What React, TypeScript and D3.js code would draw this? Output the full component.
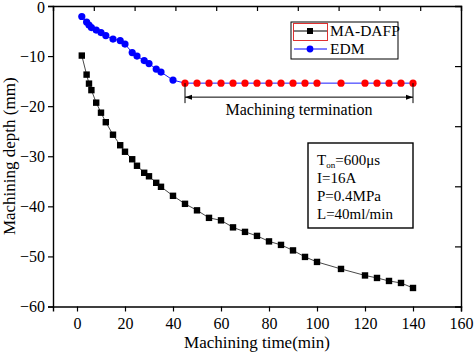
import React, { useEffect, useRef } from "react";
import * as d3 from "d3";

// machining time (min)
const times = [2, 4, 5, 6, 8, 10, 12, 15, 18, 20, 23, 25, 28, 30, 33, 35, 40, 45, 50, 55, 60, 65, 70, 75, 80, 85, 90, 95, 100, 110, 120, 125, 130, 135, 140];

// MA-DAFP machining depth (mm)
const dafpDepth = [-9.9, -13.7, -15.5, -16.8, -19.3, -21.3, -23.2, -25.7, -27.8, -29.1, -30.6, -31.9, -33.3, -34.0, -35.3, -36.1, -37.9, -39.5, -40.8, -42.3, -42.8, -44.2, -45.1, -45.9, -47.0, -47.7, -48.8, -50.1, -51.1, -52.5, -53.8, -54.3, -54.9, -55.3, -56.3];

// EDM machining depth (mm) -- stops going deeper at 45 min
const edmDepth = [-2.1, -3.2, -3.8, -4.3, -4.8, -5.3, -5.9, -6.6, -6.9, -7.6, -9.3, -10.0, -10.9, -11.5, -12.6, -13.2, -14.8, -15.4, -15.4, -15.4, -15.4, -15.4, -15.4, -15.4, -15.4, -15.4, -15.4, -15.4, -15.4, -15.4, -15.4, -15.4, -15.4, -15.4, -15.4];
const terminationStart = 45;

const xTicks = [0, 20, 40, 60, 80, 100, 120, 140, 160];
const yTicks = [0, -10, -20, -30, -40, -50, -60];
const params = ["=600μs", "I=16A", "P=0.4MPa", "L=40ml/min"];

const W = 474;
const H = 354;
const FONT = "Liberation Serif, Times New Roman, serif";

export default function App() {
  const svgRef = useRef<SVGSVGElement>(null);

  useEffect(() => {
    document.body.style.margin = "0";
    const margin = { top: 6, right: 13, bottom: 47.5, left: 53 };
    const svg = d3.select(svgRef.current);
    svg.selectAll("*").remove();
    svg.attr("font-family", FONT);

    const x = d3.scaleLinear().domain([-10, 160]).range([margin.left, W - margin.right]);
    const y = d3.scaleLinear().domain([-60, 0]).range([H - margin.bottom, margin.top]);
    // mirrored frame axes (Origin default, unlabelled)
    const xTop = d3.scaleLinear().domain([0, 10]).range(x.range());
    const yRight = d3.scaleLinear().domain([0, 10]).range(y.range());

    const x0 = margin.left, x1 = W - margin.right, y0 = margin.top, y1 = H - margin.bottom;

    // bottom axis
    const gb = svg.append("g").attr("transform", `translate(0,${y1})`);
    gb.call(d3.axisBottom(x).tickValues(d3.range(-10, 161, 20)).tickSize(3).tickFormat(() => ""));
    gb.call(d3.axisBottom(x).tickValues(xTicks).tickSize(5).tickPadding(6).tickFormat(d3.format("d")));
    // left axis
    const gl = svg.append("g").attr("transform", `translate(${x0},0)`);
    gl.call(d3.axisLeft(y).tickValues(d3.range(-55, 0, 10)).tickSize(3).tickFormat(() => ""));
    gl.call(d3.axisLeft(y).tickValues(yTicks).tickSize(5).tickPadding(3).tickFormat(d3.format("d")));
    // top axis, ticks inside
    const gt = svg.append("g").attr("transform", `translate(0,${y0})`);
    gt.call(d3.axisTop(xTop).tickValues(d3.range(1, 10)).tickSize(-5).tickFormat(() => ""));
    // right axis, ticks inside
    const gr = svg.append("g").attr("transform", `translate(${x1},0)`);
    gr.call(d3.axisRight(yRight).tickValues([1, 3, 5, 7, 9]).tickSize(-3).tickFormat(() => ""));
    gr.call(d3.axisRight(yRight).tickValues([2, 4, 6, 8]).tickSize(-6).tickFormat(() => ""));

    [gb, gl, gt, gr].forEach((g) => g.attr("font-family", FONT).attr("font-size", 16));
    svg.selectAll(".domain").attr("stroke", "#000").attr("stroke-width", 1.4);
    svg.selectAll(".tick line").attr("stroke", "#000").attr("stroke-width", 1.2);
    svg.selectAll(".tick text").attr("fill", "#000");
    gl.selectAll(".tick text").filter((d: any) => d === 0).attr("dy", "0.42em");

    // axis titles
    svg.append("text")
      .attr("x", (x0 + x1) / 2).attr("y", H - 6)
      .attr("text-anchor", "middle").attr("font-size", 17).text("Machining time(min)");
    svg.append("text")
      .attr("transform", `translate(15,${(y0 + y1) / 2}) rotate(-90)`)
      .attr("text-anchor", "middle").attr("font-size", 17).text("Machining depth (mm)");

    const rows = times.map((t, i) => ({ t, dafp: dafpDepth[i], edm: edmDepth[i] }));

    // MA-DAFP
    svg.append("path")
      .datum(rows)
      .attr("fill", "none").attr("stroke", "#333").attr("stroke-width", 0.9)
      .attr("d", d3.line<any>().x((d) => x(d.t)).y((d) => y(d.dafp)));
    const sq = 6.4;
    svg.append("g").selectAll("rect").data(rows).join("rect")
      .attr("x", (d) => x(d.t) - sq / 2).attr("y", (d) => y(d.dafp) - sq / 2)
      .attr("width", sq).attr("height", sq).attr("fill", "#000");

    // EDM
    svg.append("path")
      .datum(rows)
      .attr("fill", "none").attr("stroke", "#0000ff").attr("stroke-width", 0.9)
      .attr("d", d3.line<any>().x((d) => x(d.t)).y((d) => y(d.edm)));
    svg.append("g").selectAll("circle").data(rows).join("circle")
      .attr("cx", (d) => x(d.t)).attr("cy", (d) => y(d.edm)).attr("r", 3.6)
      .attr("fill", (d) => (d.t >= terminationStart ? "#ff0000" : "#0000ff"));

    // machining termination annotation
    const tEnd = times[times.length - 1];
    const ax0 = x(terminationStart), ax1 = x(tEnd);
    const flat = y(edmDepth[edmDepth.length - 1]);
    const ay = flat + 14;
    const ann = svg.append("g").attr("stroke", "#000").attr("stroke-width", 1);
    ann.append("line").attr("x1", ax0).attr("x2", ax0).attr("y1", flat).attr("y2", ay + 6);
    ann.append("line").attr("x1", ax1).attr("x2", ax1).attr("y1", flat).attr("y2", ay + 6);
    ann.append("line").attr("x1", ax0).attr("x2", ax1).attr("y1", ay).attr("y2", ay);
    svg.append("path").attr("fill", "#000")
      .attr("d", `M${ax0},${ay}l7,-2.5v5z M${ax1},${ay}l-7,-2.5v5z`);
    svg.append("text")
      .attr("x", (ax0 + ax1) / 2).attr("y", ay + 18)
      .attr("text-anchor", "middle").attr("font-size", 16).text("Machining termination");

    // legend
    const lg = svg.append("g").attr("transform", "translate(291,22)");
    lg.append("rect").attr("width", 107).attr("height", 37)
      .attr("fill", "#fff").attr("stroke", "#000").attr("stroke-width", 1);
    lg.append("rect").attr("x", 2.5).attr("y", 1.5).attr("width", 34).attr("height", 17)
      .attr("fill", "none").attr("stroke", "#e03030").attr("stroke-width", 1);
    lg.append("line").attr("x1", 3).attr("x2", 36).attr("y1", 9).attr("y2", 9).attr("stroke", "#000");
    lg.append("rect").attr("x", 19 - 3).attr("y", 6).attr("width", 6).attr("height", 6).attr("fill", "#000");
    lg.append("text").attr("x", 39).attr("y", 14).attr("font-size", 15.5).text("MA-DAFP");
    lg.append("line").attr("x1", 3).attr("x2", 36).attr("y1", 27).attr("y2", 27).attr("stroke", "#0000ff");
    lg.append("circle").attr("cx", 19).attr("cy", 27).attr("r", 3.4).attr("fill", "#0000ff");
    lg.append("text").attr("x", 39).attr("y", 32).attr("font-size", 15.5).text("EDM");

    // parameter box
    const pb = svg.append("g").attr("transform", "translate(308,143)");
    pb.append("rect").attr("width", 105).attr("height", 85)
      .attr("fill", "#fff").attr("stroke", "#000").attr("stroke-width", 1.4);
    const t0 = pb.append("text").attr("x", 9).attr("y", 22).attr("font-size", 15);
    t0.append("tspan").text("T");
    t0.append("tspan").attr("font-size", 9).attr("dy", 3).text("on");
    t0.append("tspan").attr("dy", -3).text(params[0]);
    params.slice(1).forEach((p, i) => {
      pb.append("text").attr("x", 9).attr("y", 40 + i * 18).attr("font-size", 15).text(p);
    });
  }, []);

  return <svg ref={svgRef} width={W} height={H} style={{ display: "block", background: "#fff" }} />;
}
